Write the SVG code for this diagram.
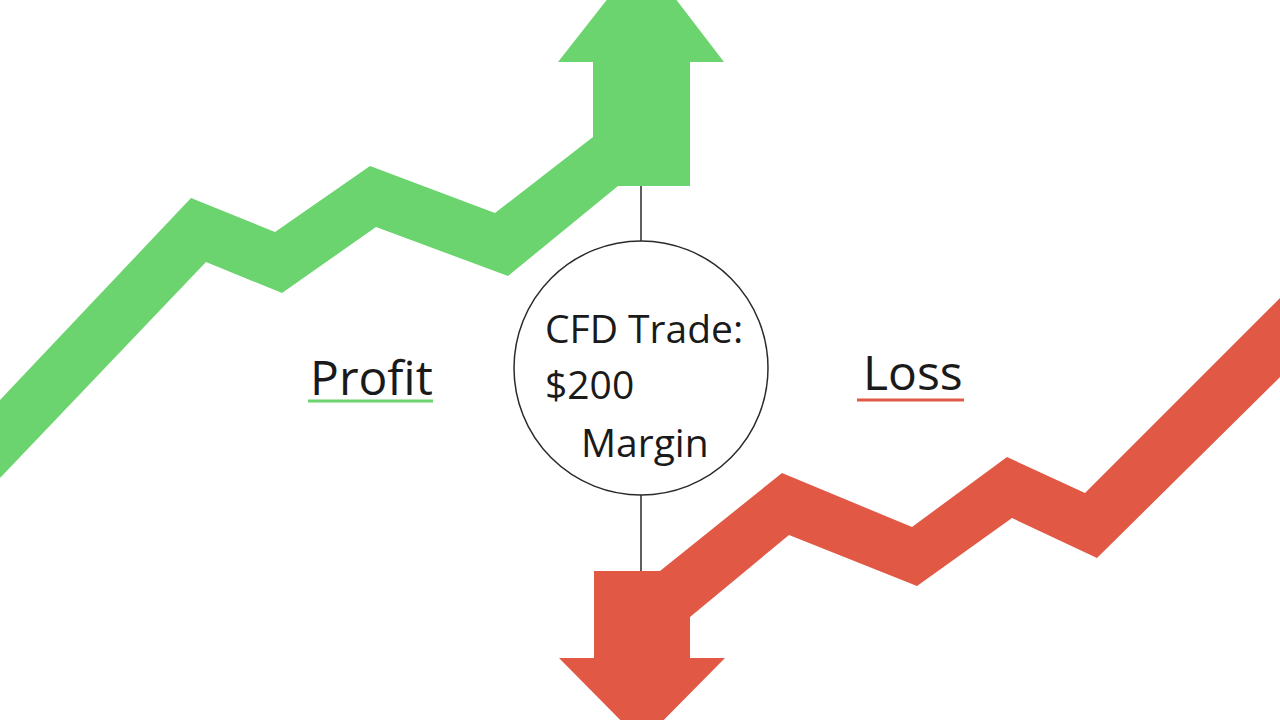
<svg xmlns="http://www.w3.org/2000/svg" width="1280" height="720" viewBox="0 0 1280 720">
<style>
.lbl{font-family:"Open Sans","Liberation Sans",sans-serif;fill:#1a1a1a}
.c{font-size:39px}
.big{font-size:48px}
.conn{stroke:#2a2a2a;stroke-width:1.5;fill:none}
</style>
<rect width="1280" height="720" fill="#ffffff"/>
<g id="profit-arrow">
<polygon fill="#6bd46f" points="642,-45 724,62 690,62 690,186 618,186 508,276 376,227 282,293 206,262 0,478 0,400 191,198 275,232 370,166 495,213 593,137 593,62 558,62"/>
</g>
<g id="loss-arrow">
<polygon fill="#e15845" points="642,742 725,658 690,658 690,617 789,535 917,586 1012,518 1097,558 1280,377 1280,298 1085,493 1007,457 912,527 782,473 660,571 594,571 594,658 559,658"/>
</g>
<g id="connectors">
<line class="conn" x1="641" y1="186" x2="641" y2="241"/>
<line class="conn" x1="641" y1="495" x2="641" y2="571"/>
</g>
<g id="cfd-trade">
<circle cx="641" cy="368" r="127" fill="#ffffff" stroke="#2a2a2a" stroke-width="1.5"/>
<text class="lbl c" x="545" y="343">CFD Trade:</text>
<text class="lbl c" x="545" y="399">$200</text>
<text class="lbl c" x="581" y="457">Margin</text>
</g>
<g id="profit">
<text class="lbl big" x="310" y="395">Profit</text>
<line x1="308" y1="401" x2="433" y2="401" stroke="#6bd46f" stroke-width="3"/>
</g>
<g id="loss">
<text class="lbl big" x="863" y="390">Loss</text>
<line x1="857" y1="400" x2="964" y2="400" stroke="#e15845" stroke-width="3"/>
</g>
</svg>
